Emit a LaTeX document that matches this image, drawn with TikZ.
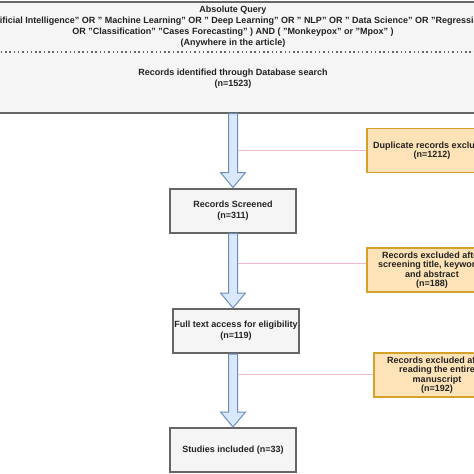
\documentclass[tikz,border=0pt]{standalone}
\usepackage{fontspec}
\setmainfont{Liberation Sans}
\usepackage{xcolor}
\usepackage{tikz}
\usetikzlibrary{calc,positioning}
\definecolor{boxgray}{HTML}{F5F5F5}
\definecolor{boxline}{HTML}{666666}
\definecolor{exfill}{HTML}{FFE3B8}
\definecolor{exline}{HTML}{D6A12A}
\definecolor{arrowfill}{HTML}{DAE8FC}
\definecolor{arrowline}{HTML}{6C8EBF}
\definecolor{pinkish}{HTML}{F4B6D2}
\definecolor{textgray}{HTML}{222222}
\begin{document}
\begin{tikzpicture}
        [ x=1pt, y=-1pt,
          every node/.style = {text=textgray,font=\fontsize{9}{11}\selectfont\bfseries,
                               align=center,inner sep=1pt},
          query box/.style = {draw=boxline,fill=boxgray,line width=2pt,
                              minimum width=626pt,minimum height=111pt},
          step box/.style = {draw=boxline,fill=boxgray,line width=2pt,
                             minimum width=126pt,minimum height=44pt},
          exclude box/.style = {draw=exline,fill=exfill,line width=1.5pt,
                                minimum width=130pt,minimum height=44pt,
                                font=\fontsize{9}{9.5}\selectfont\bfseries},
          pink line/.style = {draw=pinkish,line width=1pt},
          block arrow/.style = {draw=arrowline,fill=arrowfill,line width=1pt,
              to path={($(\tikztostart)+(-4.5,0)$) -- ($(\tikztotarget)+(-4.5,-15)$)
                -- ($(\tikztotarget)+(-12.5,-15)$) -- (\tikztotarget)
                -- ($(\tikztotarget)+(12.5,-15)$) -- ($(\tikztotarget)+(4.5,-15)$)
                -- ($(\tikztostart)+(4.5,0)$) -- cycle}}]
        \useasboundingbox (0,0) rectangle (474,474);
        \clip (0,0) rectangle (474,474);
        \coordinate (spine) at (233,0);
        \node[query box] (db) at (233,57) {};
        \node (query) at (233,26.5)
            {Absolute Query\\
             ( "Artificial Intelligence" OR " Machine Learning" OR " Deep Learning" OR " NLP" OR " Data Science" OR "Regression"\\
             OR "Classification" "Cases Forecasting" ) AND ( "Monkeypox" or "Mpox" )\\
             (Anywhere in the article)};
        \draw[boxline,line width=1.5pt,dash pattern=on 1.5pt off 2.8pt] (db.west |- 0,52) -- (db.east |- 0,52);
        \node (found) at (233,78.5) {Records identified through Database search\\(n=1523)};
        \node[step box] (screened) at (233,210.5) {Records Screened\\(n=311)};
        \node[step box] (fulltext) at (236,331) {Full text access for eligibility\\(n=119)};
        \node[step box] (included) at (233,450) {Studies included (n=33)};
        \node[exclude box] (dup) at (432,150.5) {Duplicate records excluded\\(n=1212)};
        \node[exclude box] (screenex) at (432,270) {Records excluded after\\screening title, keywords\\and abstract\\(n=188)};
        \node[exclude box,minimum width=126pt] (readex) at (437,375) {Records excluded after\\reading the entire\\manuscript\\(n=192)};
        \draw[block arrow] (spine |- db.south) to (spine |- screened.north);
        \draw[block arrow] (spine |- screened.south) to (spine |- fulltext.north);
        \draw[block arrow] (spine |- fulltext.south) to (spine |- included.north);
        \draw[pink line] ($(spine |- dup.west)+(5,0)$) -- (dup.west);
        \draw[pink line] ($(spine |- screenex.west)+(5,-7)$) -- ($(screenex.west)+(0,-7)$);
        \draw[pink line] ($(spine |- readex.west)+(5,-1)$) -- ($(readex.west)+(0,-1)$);
    \end{tikzpicture}
\end{document}
